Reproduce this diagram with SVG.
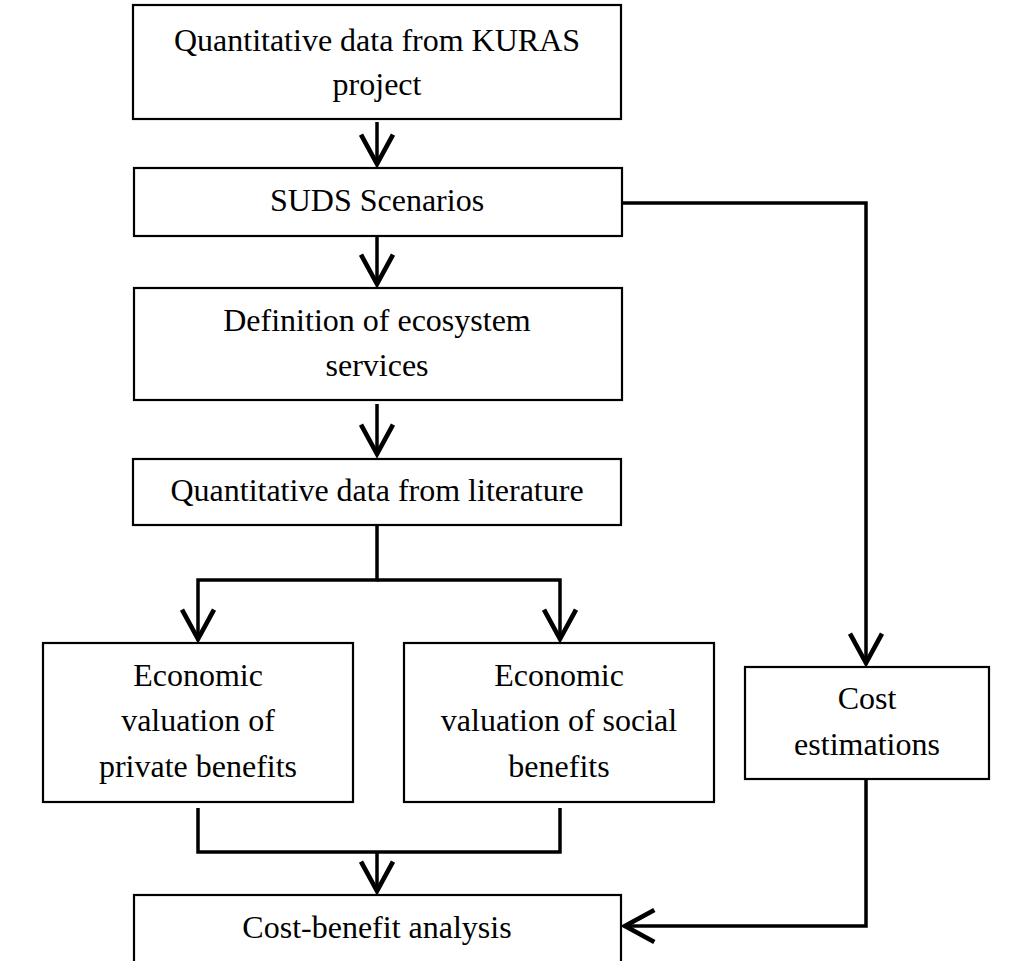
<svg xmlns="http://www.w3.org/2000/svg" width="1019" height="961" viewBox="0 0 1019 961">
<style>
.b{fill:#fff;stroke:#000;stroke-width:2.2}
.t{font-family:"Liberation Serif",serif;font-size:32px;text-anchor:middle;fill:#000}
.c{fill:none;stroke:#000;stroke-width:3.5}
</style>
<defs>
<marker id="a" markerUnits="userSpaceOnUse" markerWidth="40" markerHeight="40" refX="24" refY="14" orient="auto" viewBox="0 0 30 28">
<path d="M2,2 L24,14 L2,26" fill="none" stroke="#000" stroke-width="3.5"/>
</marker>
</defs>
<rect width="1019" height="961" fill="#fff"/>
<g id="n1"><rect class="b" x="133" y="5" width="488" height="114"/><text class="t" x="377" y="51">Quantitative data from KURAS</text><text class="t" x="377" y="95">project</text></g>
<g id="n2"><rect class="b" x="134" y="168" width="488" height="68"/><text class="t" x="377" y="211">SUDS Scenarios</text></g>
<g id="n3"><rect class="b" x="134" y="288" width="488" height="112"/><text class="t" x="377" y="331">Definition of ecosystem</text><text class="t" x="377" y="376">services</text></g>
<g id="n4"><rect class="b" x="133" y="459" width="488" height="66"/><text class="t" x="377" y="501">Quantitative data from literature</text></g>
<g id="n5"><rect class="b" x="43" y="643" width="310" height="159"/><text class="t" x="198" y="686">Economic</text><text class="t" x="198" y="731">valuation of</text><text class="t" x="198" y="777">private benefits</text></g>
<g id="n6"><rect class="b" x="404" y="643" width="310" height="159"/><text class="t" x="559" y="686">Economic</text><text class="t" x="559" y="731">valuation of social</text><text class="t" x="559" y="777">benefits</text></g>
<g id="n7"><rect class="b" x="745" y="667" width="244" height="112"/><text class="t" x="867" y="709">Cost</text><text class="t" x="867" y="755">estimations</text></g>
<g id="n8"><rect class="b" x="134" y="895" width="487" height="80"/><text class="t" x="377" y="938">Cost-benefit analysis</text></g>
<g id="connectors">
<path class="c" d="M377,122 V164" marker-end="url(#a)"/>
<path class="c" d="M377,237 V284" marker-end="url(#a)"/>
<path class="c" d="M377,404 V454" marker-end="url(#a)"/>
<path class="c" d="M377,525 V580 H198 V639" marker-end="url(#a)"/>
<path class="c" d="M377,580 H560 V639" marker-end="url(#a)"/>
<path class="c" d="M622,203 H866 V663" marker-end="url(#a)"/>
<path class="c" d="M198,808 V852 H560 V808"/>
<path class="c" d="M377,852 V891" marker-end="url(#a)"/>
<path class="c" d="M866,779 V926 H625" marker-end="url(#a)"/>
</g>
</svg>
